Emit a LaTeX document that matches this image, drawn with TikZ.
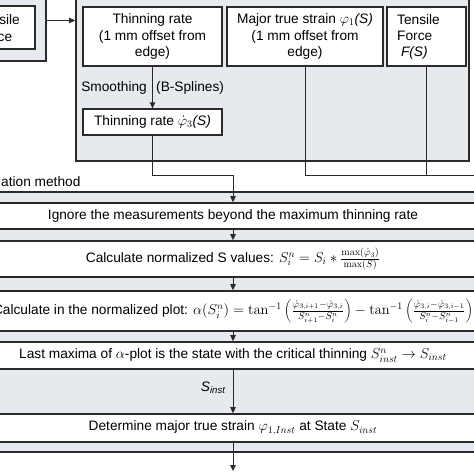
\documentclass[tikz,border=0pt]{standalone}
\usepackage[no-math]{fontspec}
\setmainfont{Liberation Sans}
\usetikzlibrary{arrows.meta}
\definecolor{grpfill}{HTML}{E6E9ED}
\definecolor{ln}{HTML}{2A2A2A}
\begin{document}
\begin{tikzpicture}[x=1pt,y=-1pt, font=\fontsize{13.7}{16.3}\selectfont,
  box/.style={draw=ln, line width=1.3pt, fill=white, inner sep=0pt, align=center},
  wbox/.style={draw=ln, line width=1.6pt, fill=white, minimum width=540pt, inner sep=0pt},
  grp/.style={draw=ln, line width=1.7pt, fill=grpfill, inner sep=0pt},
  conn/.style={draw=ln, line width=0.9pt},
  arr/.style={conn, -{Triangle[length=6pt,width=5.5pt]}},
  lbl/.style={inner sep=0pt}]
\useasboundingbox (0,0) rectangle (474,474);
\clip (0,0) rectangle (474,474);
% groups (top)
\node[grp, minimum width=76pt, minimum height=81pt] (lg) at (8,20.5) {};
\node[grp, minimum width=393pt, minimum height=181pt] (rg) at (272.5,70.5) {};
\node[box, minimum width=75pt, minimum height=43pt] (ltf) at (-2.5,27.5) {};
\node[lbl, anchor=west, align=left] (ltft) at (-23,28) {Tensile\\Force};
\draw[arr] (lg.east) -- (rg.west |- lg.east);
% top boxes
\node[box, minimum width=139pt, minimum height=59pt] (tr) at (152.5,36.5) {Thinning rate\\(1 mm offset from\\edge)};
\node[box, minimum width=156pt, minimum height=59pt] (ms) at (305,36.5) {Major true strain $\varphi_1$\textit{(S)}\\(1 mm offset from\\edge)};
\node[box, minimum width=79pt, minimum height=59pt] (tf) at (426.5,36.5) {};
\node[lbl, anchor=west, align=left] (tft) at (397,37) {Tensile\\Force\\\hspace*{3.8pt}\textit{F(S)}};
\node[box, minimum width=139pt, minimum height=26pt] (tr2) at (152.5,122) {Thinning rate $\dot{\varphi}_3$\textit{(S)}};
\draw[arr] (tr.south) -- (tr2.north);
\node[lbl, anchor=east] (sm) at (147,88) {Smoothing};
\node[lbl, anchor=west] (bs) at (156,88) {(B-Splines)};
% bottom group
\node[grp, minimum width=514pt, minimum height=260pt] (bg) at (237,322) {};
\node[lbl, anchor=west] (bgl) at (1,182) {ation method};
\node[wbox, minimum height=26pt] (ig) at (233,216) {Ignore the measurements beyond the maximum thinning rate};
\node[wbox, minimum height=36pt] (nm) at (233,259) {Calculate normalized S values: $S_i^n = S_i * \frac{\max(\dot{\varphi}_3)}{\max(S)}$};
\node[wbox, minimum height=40pt] (pl) at (233,311) {Calculate in the normalized plot: $\alpha(S_i^n) = \tan^{-1}\left(\frac{\dot{\varphi}_{3,i+1}-\dot{\varphi}_{3,i}}{S_{i+1}^n-S_i^n}\right) - \tan^{-1}\left(\frac{\dot{\varphi}_{3,i}-\dot{\varphi}_{3,i-1}}{S_i^n-S_{i-1}^n}\right)$};
\node[wbox, minimum height=27pt] (lm) at (233,355.5) {Last maxima of $\alpha$-plot is the state with the critical thinning $S_{inst}^n$ $\rightarrow$ $S_{inst}$};
\node[wbox, minimum height=28pt] (dt) at (233,428) {Determine major true strain $\varphi_{1,Inst}$ at State $S_{inst}$};
% connectors
\coordinate (j1) at (233,175);
\coordinate (rr) at (490,175);
\coordinate (endp) at (233,471);
\draw[arr] (tr2.south) |- (j1) -- (ig.north);
\draw[conn] (ms.south) |- (rr);
\draw[conn] (tf.south) -- (tf.south |- rr);
\draw[arr] (ig.south) -- (nm.north);
\draw[arr] (nm.south) -- (pl.north);
\draw[arr] (pl.south) -- (lm.north);
\draw[arr] (lm.south) -- (dt.north);
\node[lbl, anchor=east] (si) at (226,388) {\textit{S}\textsubscript{\textit{inst}}};
\draw[arr] (dt.south) -- (endp);
\end{tikzpicture}
\end{document}
